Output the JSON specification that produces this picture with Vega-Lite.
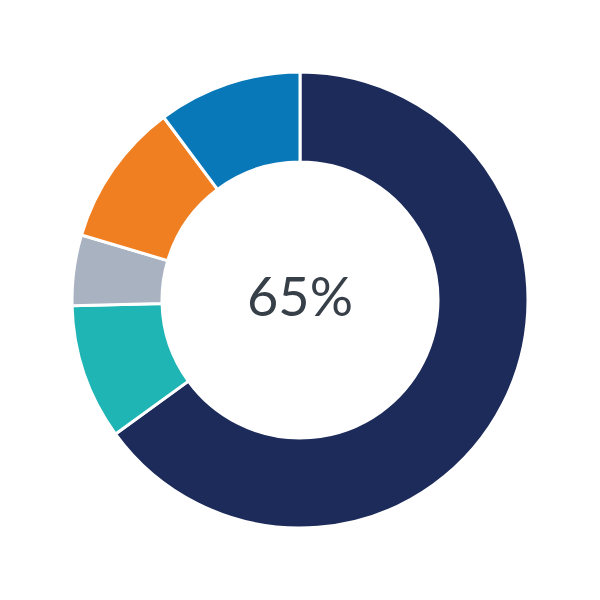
{
  "$schema": "https://vega.github.io/schema/vega-lite/v6.json",
  "width": 600,
  "height": 600,
  "padding": 0,
  "autosize": {"type": "fit", "contains": "padding"},
  "background": "white",
  "view": {"stroke": null},
  "layer": [
    {
      "data": {
        "values": [
          {"segment": "A", "share": 65, "rank": 1},
          {"segment": "B", "share": 9.6, "rank": 2},
          {"segment": "C", "share": 5.0, "rank": 3},
          {"segment": "D", "share": 10.2, "rank": 4},
          {"segment": "E", "share": 10.2, "rank": 5}
        ]
      },
      "mark": {"type": "arc", "innerRadius": 138, "outerRadius": 228, "stroke": "white", "strokeWidth": 3},
      "encoding": {
        "theta": {"field": "share", "type": "quantitative", "stack": true},
        "order": {"field": "rank", "type": "quantitative"},
        "color": {
          "field": "segment",
          "type": "nominal",
          "legend": null,
          "scale": {
            "domain": ["A", "B", "C", "D", "E"],
            "range": ["#1c2b5a", "#1fb5b4", "#a8b2c0", "#f07f22", "#0978b8"]
          }
        }
      }
    },
    {
      "data": {"values": [{"label": "65%"}]},
      "mark": {"type": "text", "font": "Lato", "fontSize": 54, "fontWeight": "normal", "color": "#373f48", "align": "center", "baseline": "middle"},
      "encoding": {
        "text": {"field": "label", "type": "nominal"}
      }
    }
  ]
}
